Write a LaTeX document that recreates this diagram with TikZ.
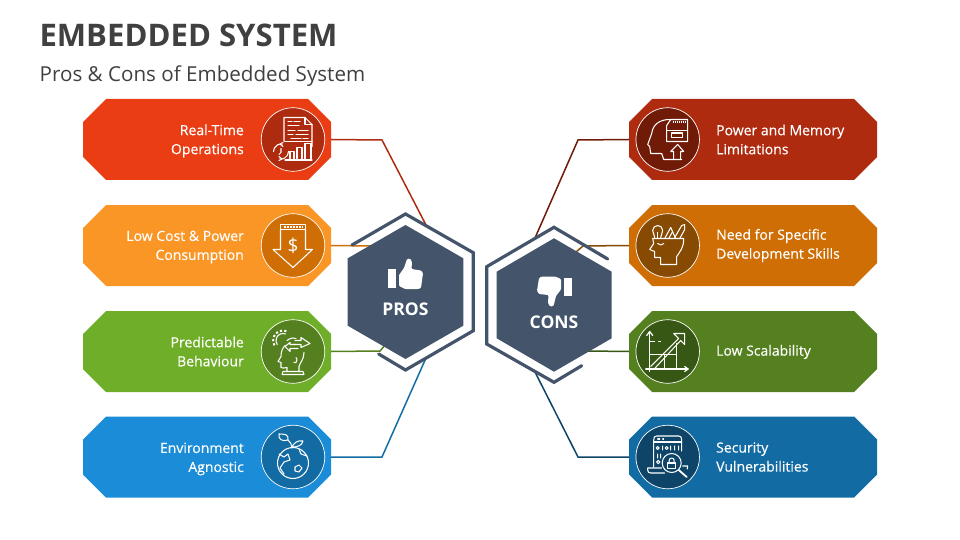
\documentclass[tikz,border=0pt]{standalone}
\usepackage{fontspec}
\setmainfont{Open Sans}
\newfontfamily\lblfont[FakeBold=0.35]{Open Sans}
\definecolor{hexc}{HTML}{44546A}
\definecolor{titlec}{HTML}{404040}
\definecolor{cA}{HTML}{EA3D14}\definecolor{dA}{HTML}{AF2B10}\definecolor{eA}{HTML}{6F1B08}
\definecolor{cB}{HTML}{FA9626}\definecolor{dB}{HTML}{CF6E05}\definecolor{eB}{HTML}{864A03}
\definecolor{cC}{HTML}{6FAE28}\definecolor{dC}{HTML}{54801F}\definecolor{eC}{HTML}{375714}
\definecolor{cD}{HTML}{1A8CD8}\definecolor{dD}{HTML}{126BA3}\definecolor{eD}{HTML}{0E4468}
\newcommand{\cardat}[4]{%
  \fill[#4] (#2-124,#3-17.5) -- (#2-101,#3-40.5) -- (#2+101,#3-40.5) -- (#2+124,#3-17.5) -- (#2+124,#3+17.5) -- (#2+101,#3+40.5) -- (#2-101,#3+40.5) -- (#2-124,#3+17.5) -- cycle;
  \node[cardbox] (#1) at (#2,#3) {};}
\tikzset{
 x=1pt,y=-1pt,
 cardbox/.style={rectangle,minimum width=248pt,minimum height=81pt,inner sep=0pt,draw=none},
 disc/.style={circle,minimum size=63.5pt,inner sep=0pt,draw=white,line width=0.7pt},
 lbl/.style={text=white,font=\lblfont\fontsize{14}{19}\selectfont,inner sep=0pt},
 lblL/.style={lbl,anchor=east,align=right},
 lblR/.style={lbl,anchor=west,align=left},
 link/.style={line width=1.5pt},
 ring/.style={draw=hexc,line width=3.2pt,line join=miter,line cap=round},
 ico/.style={draw=white,line width=1.05pt,line join=round,line cap=round},
}
\begin{document}
\begin{tikzpicture}
\useasboundingbox (0,0) rectangle (960,540);
\node[anchor=west,inner sep=0pt,font=\fontsize{31.1}{36}\selectfont\bfseries,text=titlec] (title) at (39.3,35) {EMBEDDED SYSTEM};
\node[anchor=west,inner sep=0pt,font=\fontsize{20.6}{24}\selectfont,text=titlec] (sub) at (39.5,76) {Pros \& Cons of Embedded System};
% cards
\cardat{p1}{207}{139.5}{cA}
\cardat{p2}{207}{245.5}{cB}
\cardat{p3}{207}{351.5}{cC}
\cardat{p4}{207}{457}{cD}
\cardat{q1}{753}{139.5}{dA}
\cardat{q2}{753}{245.5}{dB}
\cardat{q3}{753}{351.5}{dC}
\cardat{q4}{753}{457}{dD}
% connector bends
\coordinate (a1) at (382,140);\coordinate (a1e) at (426,225);
\coordinate (a2e) at (372,246);
\coordinate (a3) at (380,351);\coordinate (a3e) at (386,344);
\coordinate (a4) at (382,457);\coordinate (a4e) at (426,358);
\coordinate (b1) at (578,140);\coordinate (b1e) at (535,238);
\coordinate (b2) at (583,246);\coordinate (b2e) at (576,252);
\coordinate (b3e) at (588,351);
\coordinate (b4) at (578,457);\coordinate (b4e) at (535,372);
\draw[link,dA] (p1.east) -- (a1) -- (a1e);
\draw[link,dB] (p2.east) -- (a2e);
\draw[link,dC] (p3.east) -- (a3) -- (a3e);
\draw[link,dD] (p4.east) -- (a4) -- (a4e);
\draw[link,eA] (q1.west) -- (b1) -- (b1e);
\draw[link,eB] (q2.west) -- (b2) -- (b2e);
\draw[link,eC] (q3.west) -- (b3e);
\draw[link,eD] (q4.west) -- (b4) -- (b4e);
% hexagons
\fill[hexc] (405.5,225) -- (463.3,258.3) -- (463.3,325.7) -- (405.5,359) -- (347.7,325.7) -- (347.7,258.3) -- cycle;
\draw[ring] (352,245) -- (405.5,214) -- (473.3,252.7) -- (473.3,330.7) -- (405.5,370) -- (378.7,354);
\fill[hexc] (554,238.3) -- (611.7,271.7) -- (611.7,338.3) -- (554,371.7) -- (496.7,338.3) -- (496.7,271.7) -- cycle;
\draw[ring] (607.7,259) -- (554,227.3) -- (486.7,266.7) -- (486.7,344) -- (554,382.3) -- (581.7,365.7);
\node[inner sep=0pt,text=white,font=\fontsize{17.5}{20}\selectfont\bfseries] (pros) at (405.5,309.5) {PROS};
\node[inner sep=0pt,text=white,font=\fontsize{17.5}{20}\selectfont\bfseries] (cons) at (554,322.5) {CONS};
% thumb up
\fill[white] (388,269) rectangle (396,288);
\fill[white,rounded corners=1pt] (399,275) -- (404,268) -- (407,259) -- (410,258.5) -- (412,262) -- (411.5,269) -- (421,270.5) -- (423,273) -- (421,288) -- (418,289) -- (405,289) -- (399,286) -- cycle;
% thumb down
\fill[white] (564,277.5) rectangle (572,295.5);
\fill[white,rounded corners=1pt] (561,289.5) -- (556,296) -- (553.5,306) -- (550,306.5) -- (548,303) -- (548.5,295) -- (539,294) -- (537,291) -- (539,278) -- (542,276.5) -- (555,276.5) -- (561,279) -- cycle;
% discs
\foreach \n/\x/\y/\c in {d1/293/139.5/dA,d2/293/245.5/dB,d3/293/351.5/dC,d4/293/457/dD,e1/667.7/139.5/eA,e2/667.7/245.5/eB,e3/667.7/351.5/eC,e4/667.7/457/eD}
  \node[disc,fill=\c] (\n) at (\x,\y) {};
% labels
\node[lblL] (t1) at (244,141) {Real-Time\\Operations};
\node[lblL] (t2) at (244,247) {Low Cost \& Power\\Consumption};
\node[lblL] (t3) at (244,351.5) {Predictable\\Behaviour};
\node[lblL] (t4) at (244,459) {Environment\\Agnostic};
\node[lblR] (u1) at (716,139.5) {Power and Memory\\Limitations};
\node[lblR] (u2) at (716,245.5) {Need for Specific\\Development Skills};
\node[lblR] (u3) at (716,352) {Low Scalability};
\node[lblR] (u4) at (716,457) {Security\\Vulnerabilities};
% icon 1
\begin{scope}[shift={(d1.center)},ico]
\draw (-9,1) -- (-9,-22) -- (12,-22) -- (19,-15) -- (19,7);
\draw (12,-22) -- (12,-15) -- (19,-15);
\draw (-9,2) -- (19,2);
\draw (-5,-18) -- (-1,-18) (1,-18) -- (7,-18) (-5,-14) -- (6,-14) (-5,-9) -- (2,-9) (5,-9) -- (15,-9) (-5,-5) -- (0,-5) (3,-5) -- (15,-5) (-2,-1) -- (8,-1) (10,-1) -- (15,-1);
\draw (-19.5,12) arc[start angle=180,end angle=280,radius=7.5];
\draw (-4.5,12) arc[start angle=0,end angle=100,radius=7.5];
\draw (-13,4.5) -- (-10,3) (-13,4.5) -- (-10,7);
\draw (-11,19.5) -- (-14,21) (-11,19.5) -- (-14,17);
\draw (-12,9) -- (-12,13) -- (-14,15);
\draw (-3,19) -- (-3,12) -- (1,12) -- (1,19) (4,19) -- (4,8) -- (9,8) -- (9,19) (12,19) -- (12,4) -- (18,4) -- (18,19);
\draw (-8,20.5) -- (19,20.5);
\end{scope}
% icon 2
\begin{scope}[shift={(d2.center)},ico]
\draw (-12.5,-16) -- (-12.5,-21) -- (12.5,-21) -- (12.5,-16) -- cycle;
\draw (-12.5,-16) -- (-12.5,4) -- (-20,4) -- (0,22) -- (19.5,4) -- (12.5,4) -- (12.5,-16);
\draw[line width=1.4pt,dash pattern=on 1.5pt off 1.5pt,line cap=butt] (-9,-18.5) -- (9.5,-18.5);
\node[inner sep=0pt,text=white,font=\fontsize{19}{20}\selectfont] (dollar) at (0,0) {\$};
\end{scope}
% icon 3
\begin{scope}[shift={(d3.center)},ico]
\draw[dash pattern=on 2.2pt off 2.2pt,line width=2pt,line cap=butt] (-6.6,-20.4) arc[start angle=-70,end angle=-215,radius=10];
\draw (-7.6,-17.6) arc[start angle=-70,end angle=-215,radius=7];
\draw (-8,-6) .. controls (-11,-3) and (-12,1) .. (-12,5) -- (-15,10) -- (-12,11) -- (-12,16) .. controls (-11,17) and (-9,16.5) .. (-6,16) -- (-6,20);
\draw (-11,23) -- (-10,20) -- (10,20) -- (11,23) -- cycle;
\draw (6,20) -- (6,15) .. controls (7,11) and (11,8) .. (11,1);
\draw (-6,-11) .. controls (-2,-14) and (1,-14) .. (3,-13);
\draw (0,-7) -- (8,-7) -- (8,-4) -- (17,-8) -- (8,-14) -- (8,-11) -- (2,-11);
\draw (5,-3) -- (-3,-3) -- (-3,0) -- (-8,-5) -- (-3,-9) -- (-3,-7) -- (2,-7);
\draw (3,6) -- (4,8) -- (3,11) -- (1,11);
\end{scope}
% icon 4
\begin{scope}[shift={(d4.center)},ico]
\draw (0,6) circle (15.5);
\draw (-1,-9) .. controls (-2,-13) and (-2,-15) .. (-5,-17);
\draw (-5,-17) .. controls (-4,-23) and (-9,-23) .. (-14,-23) .. controls (-15,-18) and (-11,-15) .. (-5,-17);
\draw (-1,-10) .. controls (1,-14) and (4,-17) .. (10,-16) .. controls (9,-11) and (4,-10) .. (-1,-10);
\draw (-14,-3) -- (-9,0) -- (-5,-3) -- (-3,3) -- (-9,5) -- (-13,11) -- (-9,17);
\draw (6,-8) -- (8,-3) -- (14,-1);
\draw (2,10) -- (6,8) -- (9,11) -- (6,15) -- (2,14) -- cycle;
\end{scope}
% icon 5
\begin{scope}[shift={(e1.center)},ico]
\draw (2,-20) .. controls (-8,-20) and (-15,-15) .. (-16,-6) -- (-20,5) -- (-18,7) -- (-17,14) -- (-6,14) -- (-4,20) -- (14,20);
\draw (-1,-14) -- (3,-20) -- (20,-20) -- (20,2) -- (-1,2) -- cycle;
\draw (-1,-9) -- (20,-9);
\draw (4,-6.5) rectangle (15,-2);
\draw[line width=2pt,dash pattern=on 1pt off 1pt,line cap=butt] (5,-17) -- (19,-17);
\draw (6,20) -- (6,12) -- (3,12) -- (10,5) -- (16,12) -- (13,12) -- (13,20);
\end{scope}
% icon 6
\begin{scope}[shift={(e2.center)},ico]
\draw (-15,-7) -- (16,-7) .. controls (16,3) and (12,6) .. (9,11) -- (9,19) -- (-7,19) -- (-7,12) -- (-13,12) -- (-13,6) -- (-18,4) -- (-14,-2) -- (-15,-7);
\draw (-10,-2) .. controls (-8,0) and (-6,0) .. (-4,-2);
\draw (-13,-8) .. controls (-13,-11) and (-15,-12) .. (-15,-15) arc[start angle=180,end angle=360,radius=5] .. controls (-5,-12) and (-7,-11) .. (-7,-8);
\draw (-10,-8) -- (-10,-13);
\draw (-3,-7) -- (3,-18) -- (8,-7);
\draw (7,-8) -- (14,-20) -- (17,-21) -- (17,-16) -- (12,-7);
\draw (1,-7) -- (5,-14);
\end{scope}
% icon 7
\begin{scope}[shift={(e3.center)},ico]
\draw[line width=1.2pt] (-18,-19) -- (-18,20) (-22,17.5) -- (20,17.5);
\draw[line width=1.2pt] (-21,-16) -- (-18,-20) -- (-15,-16) (17,15) -- (20.5,17.5) -- (17,20);
\draw (-18,-10) -- (-13,-10) (-9,-10) -- (-7,-10) (-18,3) -- (9,3) (-3,3) -- (-3,17) (9,-8) -- (9,17);
\draw (-17,15) -- (11,-13) -- (6,-18) -- (17,-18) -- (17,-7) -- (13,-11) -- (-14,18);
\end{scope}
% icon 8
\begin{scope}[shift={(e4.center)},ico]
\draw (-14,10) -- (-14,-17) .. controls (-14,-20) and (-13,-21) .. (-11,-21) -- (11,-21) .. controls (13,-21) and (14,-20) .. (14,-17) -- (14,-6);
\draw (-14,-15) -- (14,-15);
\draw (-10,-18) -- (-8,-18) (-5,-18) -- (-4,-18);
\draw (-10,-9) circle (1.5) (-5,-11) -- (-5,-7) (-1,-9) circle (1.5) (3,-11) -- (3,-7) (7,-11) -- (7,-7) (11,-11) -- (11,-7);
\draw (-10,-3) -- (-10,1) (-7,-3) -- (-7,1) (-9.5,5) circle (1.7);
\draw (-20,11) -- (-6,11) (-20,11) -- (-20,13) .. controls (-20,15) and (-19,16) .. (-17,16) -- (-3,16);
\draw (4,6) circle (9.5);
\draw[line width=1.8pt] (11,13) -- (19,20);
\draw (0,6) rectangle (8,11.5);
\draw (1.5,6) -- (1.5,3.5) arc[start angle=180,end angle=360,radius=2.5] -- (6.5,6);
\draw (15,9) -- (20,9) -- (19.5,12);
\end{scope}
\end{tikzpicture}
\end{document}
